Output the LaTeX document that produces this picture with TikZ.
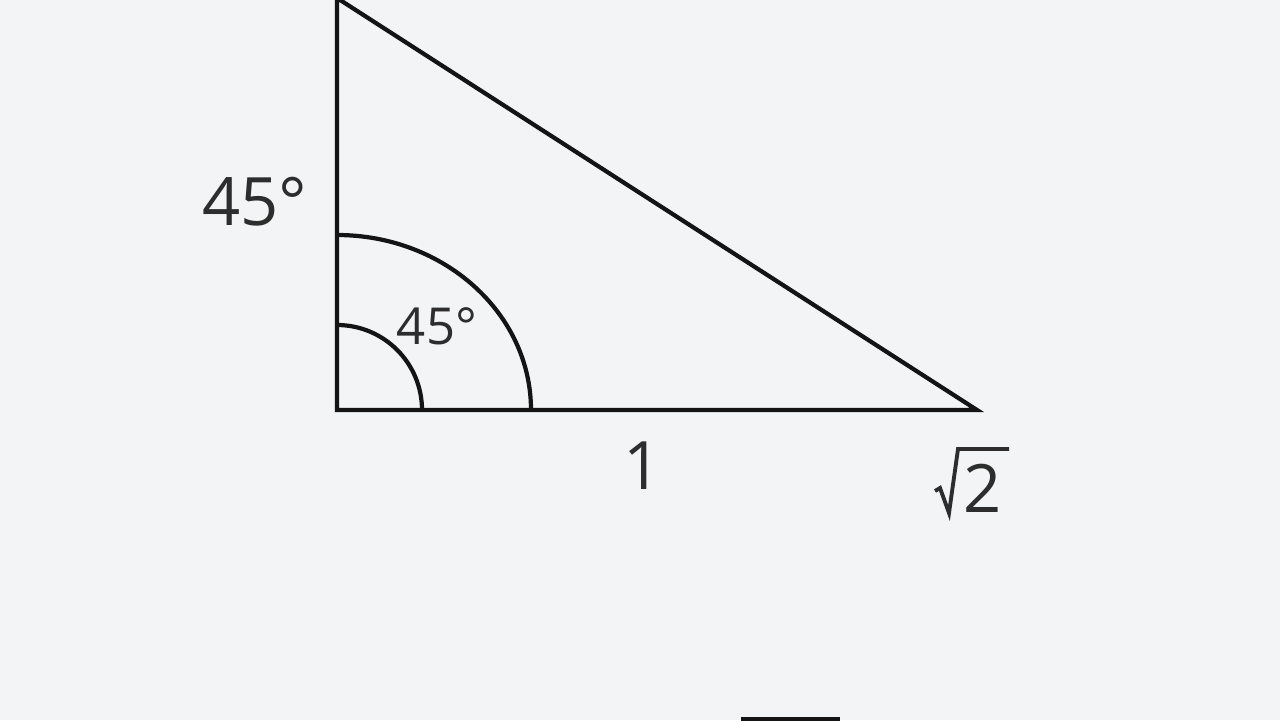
\documentclass[tikz,border=0pt]{standalone}
\usepackage{fontspec}
\setmainfont{Open Sans}
\usetikzlibrary{positioning}
\definecolor{bggray}{RGB}{243,244,245}
\definecolor{inkblack}{RGB}{20,20,20}
\definecolor{inkgray}{RGB}{45,45,45}
\tikzset{
  edgeline/.style={line width=2.4pt, inkblack, line join=miter},
  arcline/.style={line width=2.4pt, inkblack},
  bigtext/.style={font=\fontsize{38}{40}\selectfont, inkgray, inner sep=0pt},
  smalltext/.style={font=\fontsize{29}{31}\selectfont, inkgray, inner sep=0pt},
  rootline/.style={line width=2.2pt, inkgray, line join=miter}
}
\begin{document}
\begin{tikzpicture}[x=0.02cm, y=-0.02cm]
% -- Background --
\fill[bggray] (0,0) rectangle (1280,720);
\useasboundingbox (0,0) rectangle (1280,720);
% -- Triangle corners --
\coordinate (top) at (337,-2);
\coordinate (corner) at (337,410);
\coordinate (right) at (977,410);
\draw[edgeline] (top) -- (corner) -- (right) -- cycle;
% Angle arcs at the right angle
\draw[arcline] ([xshift=85*0.02cm]corner) arc[start angle=0, end angle=-90, radius=85];
\draw[arcline] ([xshift=194*0.02cm]corner) arc[start angle=0, end angle=-90, x radius=194, y radius=175];
% -- Labels --
\node[bigtext] (topangle) at (255,202) {45°};
\node[smalltext] (midangle) at (437,326) {45°};
\node[bigtext] (base) at (643,466) {1};
\node[bigtext] (hyp) at (983,488) {2};
% Root sign over the 2
\draw[rootline] ([xshift=-48*0.02cm, yshift=-3*0.02cm]hyp.center)
  -- ++(5,-3) -- ++(9,25) -- ++(9,-64) -- ++(51,0);
% Cut-off bar at the bottom edge
\coordinate (barl) at (741,719);
\coordinate (barr) at (840,719);
\draw[line width=2.5pt, inkblack] (barl) -- (barr);
\end{tikzpicture}
\end{document}
